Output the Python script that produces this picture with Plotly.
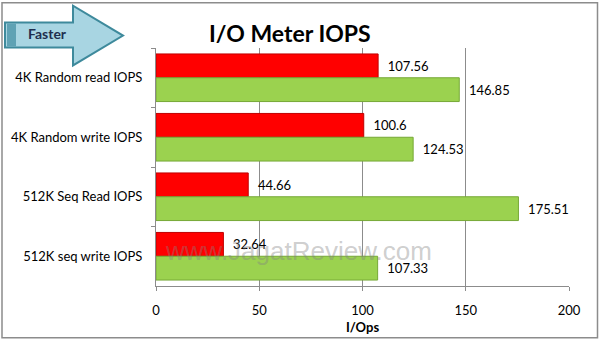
import plotly.graph_objects as go

categories = ["4K Random read IOPS", "4K Random write IOPS", "512K Seq Read IOPS", "512K seq write IOPS"]
red_values = [107.56, 100.6, 44.66, 32.64]
green_values = [146.85, 124.53, 175.51, 107.33]
x_ticks = [0, 50, 100, 150, 200]

W_FIG, H_FIG = 600, 341
L, R, T, B = 156, 31, 47.5, 54.5
PW, PH = W_FIG - L - R, H_FIG - T - B

def px(x):
    return (x - L) / PW

def py(y):
    return 1 - (y - T) / PH

FONT = "Lato, 'Open Sans', sans-serif"

fig = go.Figure()
fig.add_trace(go.Bar(
    y=categories, x=red_values, orientation="h",
    marker=dict(color="#FF0000", line=dict(color="#C00000", width=1)),
    text=red_values, texttemplate="  %{x}", textposition="outside",
    textfont=dict(family=FONT, size=13, color="#000000"), cliponaxis=False,
))
fig.add_trace(go.Bar(
    y=categories, x=green_values, orientation="h",
    marker=dict(color="#9BD24F", line=dict(color="#76A836", width=1)),
    text=green_values, texttemplate="  %{x}", textposition="outside",
    textfont=dict(family=FONT, size=13, color="#000000"), cliponaxis=False,
))

shapes = []
# outer frame
shapes.append(dict(type="rect", xref="paper", yref="paper",
                   x0=px(2), x1=px(597.5), y0=py(2), y1=py(338.5),
                   line=dict(color="#8C8C8C", width=1.5), fillcolor="rgba(0,0,0,0)", layer="below"))
# arrow
pts = [(5, 22), (73, 22), (73, 5), (123, 35), (73, 65), (73, 47), (5, 47)]
path = "M " + " L ".join(f"{px(a):.5f},{py(b):.5f}" for a, b in pts) + " Z"
shapes.append(dict(type="path", xref="paper", yref="paper", path=path,
                   fillcolor="#A8D5E2", line=dict(color="#3E8A9C", width=2)))
shapes.append(dict(type="rect", xref="paper", yref="paper",
                   x0=px(7), x1=px(16), y0=py(23), y1=py(46),
                   fillcolor="#5FA2B4", line=dict(width=0)))

annotations = [
    dict(text="<b>I/O Meter IOPS</b>", xref="paper", yref="paper",
         x=px(290), y=py(32), xanchor="center", yanchor="middle", showarrow=False,
         font=dict(family=FONT, size=23, color="#000000")),
    dict(text="<b>Faster</b>", xref="paper", yref="paper",
         x=px(47), y=py(33), xanchor="center", yanchor="middle", showarrow=False,
         font=dict(family=FONT, size=14, color="#1F2F4F")),
    dict(text="www.JagatReview.com", xref="paper", yref="paper",
         x=px(298), y=py(251), xanchor="center", yanchor="middle", showarrow=False,
         font=dict(family="Liberation Sans, Arial, sans-serif", size=26, color="rgba(130,130,130,0.40)")),
]

fig.update_layout(
    width=W_FIG, height=H_FIG,
    margin=dict(l=L, r=R, t=T, b=B, autoexpand=False),
    paper_bgcolor="#FFFFFF", plot_bgcolor="#FFFFFF",
    barmode="group", bargap=0.2, bargroupgap=0.0,
    showlegend=False,
    shapes=shapes, annotations=annotations,
    font=dict(family=FONT, size=13, color="#000000"),
    xaxis=dict(range=[0, 200], tickvals=x_ticks, ticktext=[str(v) for v in x_ticks],
               automargin=False,
               showgrid=True, gridcolor="#8C8C8C", gridwidth=1,
               showline=True, linecolor="#8C8C8C", linewidth=1,
               ticks="outside", ticklen=4, tickcolor="#8C8C8C",
               zeroline=False, tickfont=dict(family=FONT, size=13),
               ticklabelstandoff=8,
               title=dict(text="<b>I/Ops</b>", font=dict(family=FONT, size=13), standoff=6)),
    yaxis=dict(autorange="reversed", showline=True, linecolor="#8C8C8C", linewidth=1,
               automargin=False,
               ticks="outside", ticklen=4, tickcolor="#8C8C8C", tickson="boundaries",
               showgrid=False, tickfont=dict(family=FONT, size=13),
               ticklabelstandoff=10),
)

fig.write_html("out.html")
